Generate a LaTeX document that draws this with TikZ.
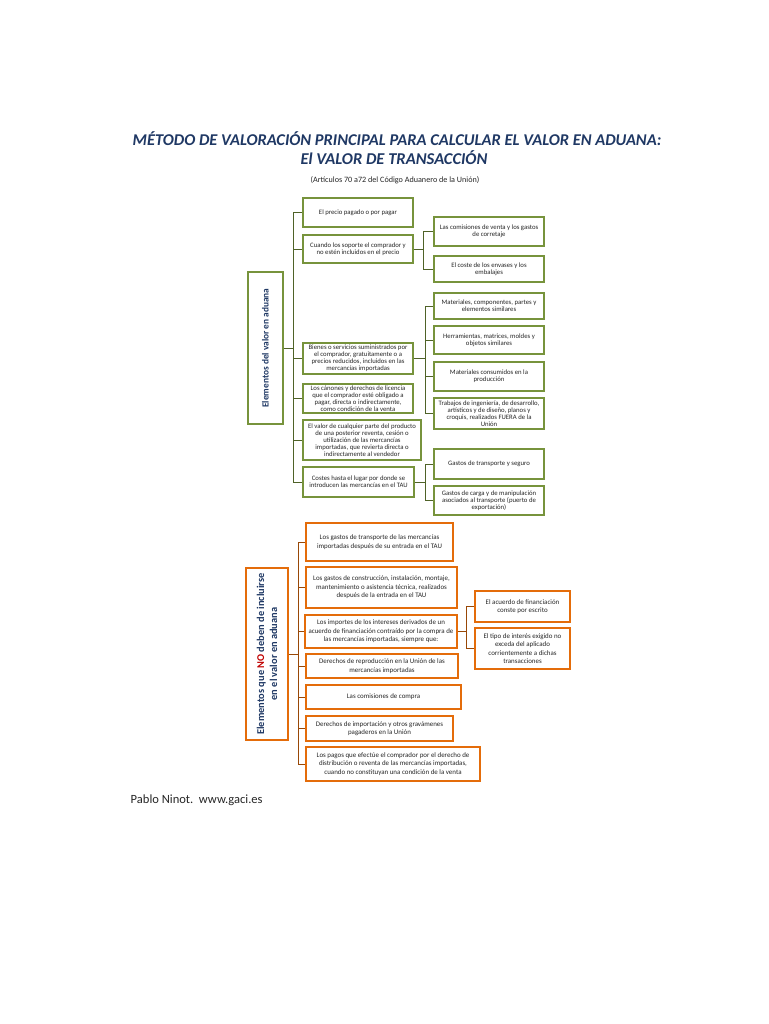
\documentclass[tikz,border=0pt]{standalone}
\usepackage{fontspec}
\setmainfont{Carlito}
\definecolor{navy}{HTML}{1F3864}
\definecolor{gbord}{HTML}{77933C}
\definecolor{gline}{HTML}{4F6228}
\definecolor{obord}{HTML}{E46C0A}
\definecolor{oline}{HTML}{984807}
\definecolor{txt}{HTML}{262626}
\definecolor{nored}{HTML}{C00000}
\newcommand\bx[7]{\node[#1, minimum width={(#5-#3)*0.75pt}, minimum height={(#6-#4)*0.75pt}] (#2) at ({(#3+#5)/2},{(#4+#6)/2}) {#7};}
\tikzset{
  gbox/.style={draw=gbord, line width=1pt, fill=white, inner sep=0pt, align=center, text=txt, font=\fontsize{5.05}{5.3}\selectfont},
  obox/.style={draw=obord, line width=1pt, fill=white, inner sep=0pt, align=center, text=txt, font=\fontsize{5.2}{6.3}\selectfont},
  glab/.style={draw=gbord, line width=1.1pt, fill=white, inner sep=0pt, align=center, text=navy, rotate=90, font=\bfseries\fontsize{7}{8.6}\selectfont},
  olab/.style={draw=obord, line width=1.1pt, fill=white, inner sep=0pt, align=center, text=navy, rotate=90, font=\bfseries\fontsize{7.8}{9.6}\selectfont},
  gcon/.style={draw=gline, line width=0.6pt},
  ocon/.style={draw=oline, line width=0.6pt},
}
\begin{document}
\begin{tikzpicture}[x=0.75pt,y=-0.75pt]
\useasboundingbox[fill=white] (0,0) rectangle (768,1024);
% titles
\node[text=navy, font=\bfseries\itshape\fontsize{12.35}{14}\selectfont] (t1) at (397,139) {MÉTODO DE VALORACIÓN PRINCIPAL PARA CALCULAR EL VALOR EN ADUANA:};
\node[text=navy, font=\bfseries\itshape\fontsize{12.4}{14}\selectfont] (t2) at (394,158) {El VALOR DE TRANSACCIÓN};
\node[text=txt, font=\fontsize{6.1}{7}\selectfont] (t3) at (395,180) {(Artículos 70 a72 del Código Aduanero de la Unión)};
% top section
\node[glab, minimum width={(424-272)*0.75pt}, minimum height={(283-248)*0.75pt}] (L1) at ({(248+283)/2},{(272+424)/2}) {Elementos del valor en aduana};
\bx{gbox}{p1}{303}{198}{413}{227}{El precio pagado o por pagar}
\bx{gbox}{p2}{303}{235}{413}{263}{Cuando los soporte el comprador y\\no estén incluidos en el precio}
\bx{gbox}{p3}{303}{343}{413}{374}{Bienes o servicios suministrados por\\el comprador, gratuitamente o a\\precios reducidos, incluidos en las\\mercancías importadas}
\bx{gbox}{p4}{303}{384}{413}{413}{Los cánones y derechos de licencia\\que el comprador esté obligado a\\pagar, directa o indirectamente,\\como condición de la venta}
\bx{gbox}{p5}{303}{420}{421}{460}{El valor de cualquier parte del producto\\de una posterior reventa, cesión o\\utilización de las mercancías\\importadas, que revierta directa o\\indirectamente al vendedor}
\bx{gbox}{p6}{303}{467}{414}{497}{Costes hasta el lugar por donde se\\introducen las mercancías en el TAU}
\bx{gbox}{a}{434}{217}{544}{246}{Las comisiones de venta y los gastos\\de corretaje}
\bx{gbox}{b}{434}{256}{544}{282}{El coste de los envases y los\\embalajes}
\bx{gbox}{c}{434}{293}{544}{319}{Materiales, componentes, partes y\\elementos similares}
\bx{gbox}{d}{434}{326}{544}{354}{Herramientas, matrices, moldes y\\objetos similares}
\bx{gbox}{e}{434}{362}{544}{391}{Materiales consumidos en la\\producción}
\bx{gbox}{f}{434}{398}{544}{429}{Trabajos de ingeniería, de desarrollo,\\artísticos y de diseño, planos y\\croquis, realizados FUERA de la\\Unión}
\bx{gbox}{g}{434}{449}{544}{479}{Gastos de transporte y seguro}
\bx{gbox}{h}{434}{486}{544}{515}{Gastos de carga y de manipulación\\asociados al transporte (puerto de\\exportación)}
\coordinate (T1) at (293,348);
\coordinate (S2) at (423,249);
\coordinate (S3) at (425,358.5);
\coordinate (S6) at (425,482);
\draw[gcon] (L1.south) -- (T1);
\foreach \n in {p1,p2,p3,p4,p5,p6} \draw[gcon] (T1) |- (\n.west);
\draw[gcon] (p2.east) -- (S2);
\foreach \n in {a,b} \draw[gcon] (S2) |- (\n.west);
\draw[gcon] (p3.east) -- (S3);
\foreach \n in {c,d,e,f} \draw[gcon] (S3) |- (\n.west);
\draw[gcon] (p6.east) -- (S6);
\foreach \n in {g,h} \draw[gcon] (S6) |- (\n.west);
% bottom section
\node[olab, minimum width={(740-568)*0.75pt}, minimum height={(288-246)*0.75pt}] (L2) at ({(246+288)/2},{(568+740)/2}) {Elementos que \textcolor{nored}{NO} deben de incluirse\\en el valor en aduana};
\bx{obox}{B1}{306}{523}{453}{561}{Los gastos de transporte de las mercancías\\importadas después de su entrada en el TAU}
\bx{obox}{B2}{306}{567}{457}{608}{Los gastos de construcción, instalación, montaje,\\mantenimiento o asistencia técnica, realizados\\después de la entrada en el TAU}
\bx{obox}{B3}{305}{615}{457}{648}{Los importes de los intereses derivados de un\\acuerdo de financiación contraído por la compra de\\las mercancías importadas, siempre que:}
\bx{obox}{B4}{306}{654}{458}{678}{Derechos de reproducción en la Unión de las\\mercancías importadas}
\bx{obox}{B5}{306}{685}{461}{709}{Las comisiones de compra}
\bx{obox}{B6}{306}{716}{453}{741}{Derechos de importación y otros gravámenes\\pagaderos en la Unión}
\bx{obox}{B7}{306}{747}{480}{781}{Los pagos que efectúe el comprador por el derecho de\\distribución o reventa de las mercancías importadas,\\cuando no constituyan una condición de la venta}
\bx{obox}{C1}{475}{591}{570}{622}{El acuerdo de financiación\\conste por escrito}
\bx{obox}{C2}{475}{628}{570}{669}{El tipo de interés exigido no\\exceda del aplicado\\corrientemente a dichas\\transacciones}
\coordinate (T2) at (298,654);
\coordinate (S8) at (466,631.5);
\draw[ocon] (L2.south) -- (T2);
\foreach \n in {B1,B2,B3,B4,B5,B6,B7} \draw[ocon] (T2) |- (\n.west);
\draw[ocon] (B3.east) -- (S8);
\foreach \n in {C1,C2} \draw[ocon] (S8) |- (\n.west);
% footer
\node[anchor=west, text=txt, font=\fontsize{9.4}{11}\selectfont] (ft) at (126,800) {Pablo Ninot.\ \ www.gaci.es};
\end{tikzpicture}
\end{document}
